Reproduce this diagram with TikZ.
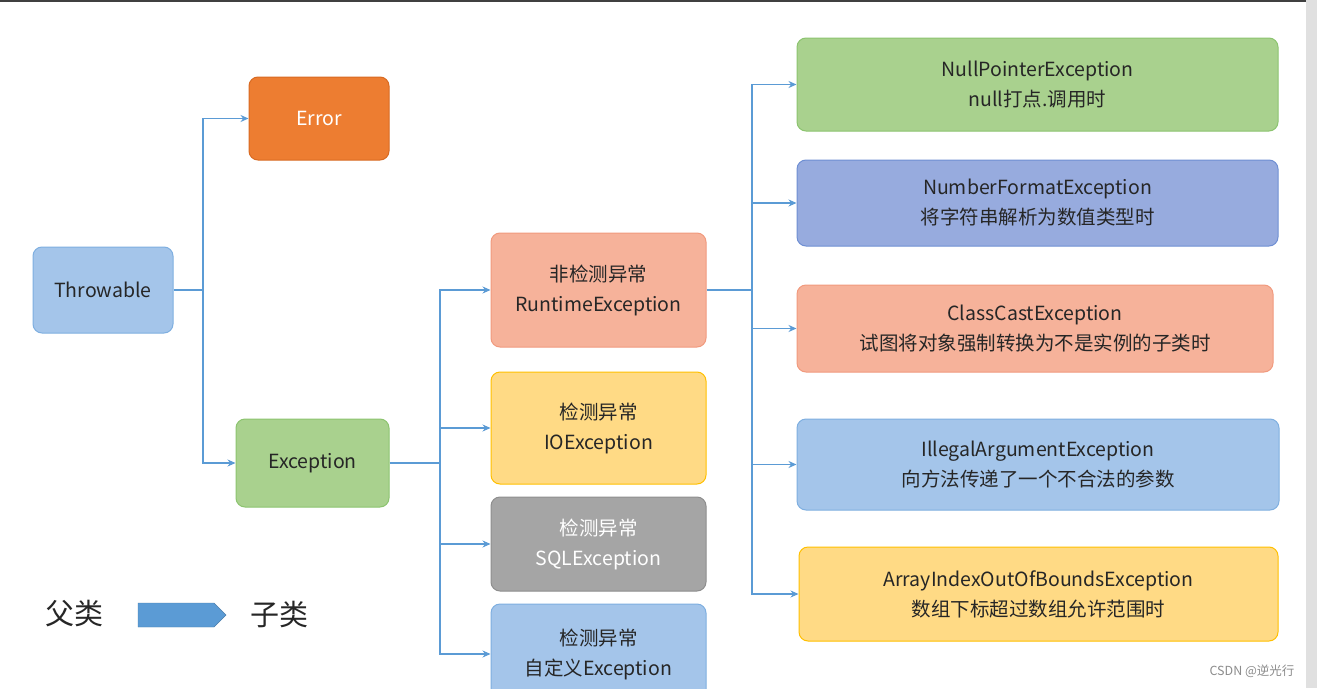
\documentclass[tikz,border=0pt]{standalone}
\usepackage{fontspec}
\setmainfont{Noto Sans CJK SC}
\usetikzlibrary{shapes.arrows,arrows.meta}
\definecolor{ln}{HTML}{5B9BD5}
\definecolor{cOr}{HTML}{ED7D31}
\definecolor{cOrD}{HTML}{D86A22}
\definecolor{cBl}{HTML}{A4C5EA}
\definecolor{cBlD}{HTML}{7FAFE0}
\definecolor{cGr}{HTML}{A9D18E}
\definecolor{cGrD}{HTML}{8CC46F}
\definecolor{cSa}{HTML}{F6B29A}
\definecolor{cSaD}{HTML}{F19A7E}
\definecolor{cYe}{HTML}{FFDA85}
\definecolor{cYeD}{HTML}{FFC000}
\definecolor{cPu}{HTML}{97ABDE}
\definecolor{cPuD}{HTML}{6F8FD3}
\definecolor{cGy}{HTML}{A5A5A5}
\definecolor{cGyD}{HTML}{8E8E8E}
\tikzset{
 box/.style={rounded corners=9pt,draw=#1D,line width=1pt,fill=#1,align=center,inner sep=0pt,font=\fontsize{19.5}{30}\selectfont,text=black!85},
 con/.style={draw=ln,line width=1.2pt},
 arr/.style={con,-{Stealth[length=8pt,width=7pt]}},
}
\begin{document}
\begin{tikzpicture}[x=1pt,y=-1pt]
\useasboundingbox (0,0) rectangle (1317,688);
\fill[white] (0,0) rectangle (1317,688);
\fill[black!75] (0,0) rectangle (1317,2);
\fill[black!12] (1306,0) rectangle (1317,688);
\node[box=cOr,text=white,minimum width=140,minimum height=83] (err) at (319,118.5) {Error};
\node[box=cBl,minimum width=140,minimum height=86] (thr) at (103,290) {Throwable};
\node[box=cGr,minimum width=153,minimum height=88] (exc) at (312.5,463) {Exception};
\node[box=cSa,minimum width=215,minimum height=114] (rt) at (598.5,290) {非检测异常\\RuntimeException};
\node[box=cYe,minimum width=215,minimum height=112] (io) at (598.5,428) {检测异常\\IOException};
\node[box=cGy,text=white,minimum width=215,minimum height=94] (sql) at (598.5,544) {检测异常\\SQLException};
\node[box=cBl,minimum width=215,minimum height=100] (cu) at (598.5,654) {检测异常\\自定义Exception};
\node[box=cGr,minimum width=481,minimum height=93] (np) at (1037.5,84.5) {NullPointerException\\null打点.调用时};
\node[box=cPu,minimum width=481,minimum height=86] (nf) at (1037.5,203) {NumberFormatException\\将字符串解析为数值类型时};
\node[box=cSa,minimum width=476,minimum height=87] (cc) at (1035,328.5) {ClassCastException\\试图将对象强制转换为不是实例的子类时};
\node[box=cBl,minimum width=482,minimum height=91] (ia) at (1038,464.5) {IllegalArgumentException\\向方法传递了一个不合法的参数};
\node[box=cYe,minimum width=479,minimum height=94] (ai) at (1038.5,594) {ArrayIndexOutOfBoundsException\\数组下标超过数组允许范围时};
\coordinate (j1) at (203,290);
\draw[con] (thr.east) -- (j1);
\draw[arr] (j1) |- (err.west);
\draw[arr] (j1) |- (exc.west);
\coordinate (j2) at (440,463);
\draw[con] (exc.east) -- (j2);
\draw[arr] (j2) |- (rt.west);
\draw[arr] (j2) |- (io.west);
\draw[arr] (j2) |- (sql.west);
\draw[arr] (j2) |- (cu.west);
\coordinate (j3) at (752,290);
\draw[con] (rt.east) -- (j3);
\foreach \t in {np,nf,cc,ia,ai} \draw[arr] (j3) |- (\t.west);
\node[font=\fontsize{29}{29}\selectfont,text=black!85] (fa) at (74,614) {父类};
\node[font=\fontsize{29}{29}\selectfont,text=black!85] (zi) at (279,614) {子类};
\node[single arrow,fill=ln,draw=ln!80!black,minimum width=24,single arrow head extend=0pt,minimum height=88,inner sep=0pt,single arrow tip angle=90,shape border uses incircle=false] (la) at (176,615) {};
\node[font=\fontsize{12.5}{12.5}\selectfont,text=black!45] (wm) at (1252,671) {CSDN @逆光行};
\end{tikzpicture}
\end{document}
